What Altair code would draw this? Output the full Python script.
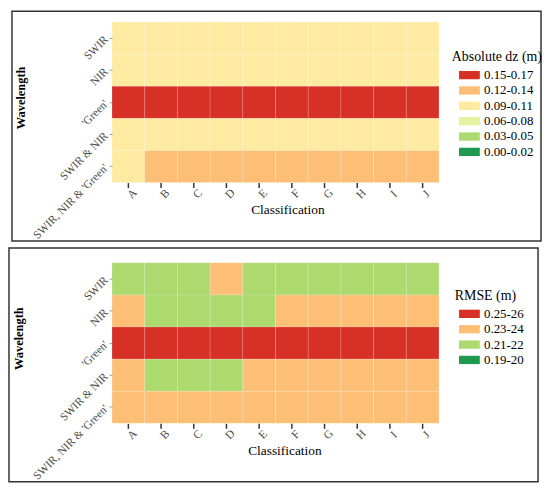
import altair as alt
import pandas as pd

classes = ["A", "B", "C", "D", "E", "F", "G", "H", "I", "J"]
wavelengths = ["SWIR", "NIR", "'Green'", "SWIR & NIR", "SWIR, NIR & 'Green'"]

dz_bins = ["0.15-0.17", "0.12-0.14", "0.09-0.11", "0.06-0.08", "0.03-0.05", "0.00-0.02"]
dz_colors = ["#d73027", "#fdbf75", "#feeba1", "#e4f2a2", "#acda6e", "#1e9a50"]

rmse_bins = ["0.25-26", "0.23-24", "0.21-22", "0.19-20"]
rmse_colors = ["#d73027", "#fdbf75", "#acda6e", "#1e9a50"]

# Absolute dz class per wavelength (columns A..J)
dz_swir = ["0.09-0.11", "0.09-0.11", "0.09-0.11", "0.09-0.11", "0.09-0.11",
           "0.09-0.11", "0.09-0.11", "0.09-0.11", "0.09-0.11", "0.09-0.11"]
dz_nir = ["0.09-0.11", "0.09-0.11", "0.09-0.11", "0.09-0.11", "0.09-0.11",
          "0.09-0.11", "0.09-0.11", "0.09-0.11", "0.09-0.11", "0.09-0.11"]
dz_green = ["0.15-0.17", "0.15-0.17", "0.15-0.17", "0.15-0.17", "0.15-0.17",
            "0.15-0.17", "0.15-0.17", "0.15-0.17", "0.15-0.17", "0.15-0.17"]
dz_swir_nir = ["0.09-0.11", "0.09-0.11", "0.09-0.11", "0.09-0.11", "0.09-0.11",
               "0.09-0.11", "0.09-0.11", "0.09-0.11", "0.09-0.11", "0.09-0.11"]
dz_all = ["0.09-0.11", "0.12-0.14", "0.12-0.14", "0.12-0.14", "0.12-0.14",
          "0.12-0.14", "0.12-0.14", "0.12-0.14", "0.12-0.14", "0.12-0.14"]

# RMSE class per wavelength (columns A..J)
rmse_swir = ["0.21-22", "0.21-22", "0.21-22", "0.23-24", "0.21-22",
             "0.21-22", "0.21-22", "0.21-22", "0.21-22", "0.21-22"]
rmse_nir = ["0.23-24", "0.21-22", "0.21-22", "0.21-22", "0.21-22",
            "0.23-24", "0.23-24", "0.23-24", "0.23-24", "0.23-24"]
rmse_green = ["0.25-26", "0.25-26", "0.25-26", "0.25-26", "0.25-26",
              "0.25-26", "0.25-26", "0.25-26", "0.25-26", "0.25-26"]
rmse_swir_nir = ["0.23-24", "0.21-22", "0.21-22", "0.21-22", "0.23-24",
                 "0.23-24", "0.23-24", "0.23-24", "0.23-24", "0.23-24"]
rmse_all = ["0.23-24", "0.23-24", "0.23-24", "0.23-24", "0.23-24",
            "0.23-24", "0.23-24", "0.23-24", "0.23-24", "0.23-24"]


def build(rows):
    recs = []
    for wl, vals in zip(wavelengths, rows):
        for c, v in zip(classes, vals):
            recs.append({"cls": c, "wl": wl, "bin": v})
    return pd.DataFrame(recs)


dz_df = build([dz_swir, dz_nir, dz_green, dz_swir_nir, dz_all])
rmse_df = build([rmse_swir, rmse_nir, rmse_green, rmse_swir_nir, rmse_all])

FONT = "Liberation Serif, Times New Roman, DejaVu Serif, serif"
frame_df = pd.DataFrame({"f": [0]})


def panel(df, bins, colors, legend_title, legend_x, sym_off, legend_y,
          frame, xtitle_x, ytitle_x):
    heat = alt.Chart(df).mark_rect(
        stroke="white", strokeWidth=0.5, strokeOpacity=0.3
    ).encode(
        x=alt.X("cls:N", sort=classes, title="Classification",
                axis=alt.Axis(labelAngle=-45, labelAlign="center", labelBaseline="top",
                              labelFontSize=11.5, labelColor="#4d4d4d", labelPadding=2,
                              labelFont=FONT, titleFont=FONT,
                              tickColor="#333333", tickWidth=1.5, tickSize=5,
                              domain=False, titleFontSize=13.5, titleFontWeight="normal",
                              titleColor="black", titleX=xtitle_x, titleY=31,
                              titleBaseline="alphabetic", titleAlign="center")),
        y=alt.Y("wl:N", sort=wavelengths, title="Wavelength",
                axis=alt.Axis(labelAngle=-45, labelAlign="right", labelBaseline="middle",
                              labelFontSize=11.5, labelColor="#4d4d4d", labelPadding=3,
                              labelFont=FONT, titleFont=FONT,
                              tickColor="#999999", tickWidth=1, tickSize=3,
                              domain=False, titleFontSize=12.5, titleFontWeight="bold",
                              titleColor="black", titleX=ytitle_x, titleY=76,
                              titleBaseline="middle", titleAlign="center")),
        color=alt.Color("bin:N", scale=alt.Scale(domain=bins, range=colors),
                        legend=alt.Legend(title=legend_title, orient="none",
                                          direction="vertical",
                                          legendX=legend_x, legendY=legend_y,
                                          symbolType="M-2,-0.8H2V0.8H-2Z",
                                          symbolSize=110, symbolStrokeWidth=0,
                                          symbolOpacity=1, symbolOffset=sym_off,
                                          titleFont=FONT, labelFont=FONT,
                                          titleFontSize=14, titleFontWeight="normal",
                                          titleColor="black", titlePadding=5,
                                          labelFontSize=13, labelColor="black",
                                          labelOffset=8.25, rowPadding=1.5)),
    )
    x0, x1, y0, y1 = frame
    border = alt.Chart(frame_df).mark_rect(
        filled=False, stroke="#333333", strokeWidth=1.5
    ).encode(x=alt.value(x0), x2=alt.value(x1), y=alt.value(y0), y2=alt.value(y1))
    return alt.layer(border, heat).properties(width=330, height=162)


top = panel(dz_df, dz_bins, dz_colors, "Absolute dz (m)", 343, 11.25, 28,
            (-101, 433, -11, 221), 177, -92)
bottom = panel(rmse_df, rmse_bins, rmse_colors, "RMSE (m)", 346, 8.25, 26,
               (-104, 430, -15, 221), 174, -94)

chart = alt.concat(top, bottom, columns=1, spacing=5, align="none").resolve_scale(
    color="independent"
).configure(
    padding={"left": 0, "top": 0, "right": 0, "bottom": 0},
    background="white",
    font=FONT,
).configure_view(stroke=None)

chart.save("out.html", embed_options={"renderer": "svg", "actions": False})
